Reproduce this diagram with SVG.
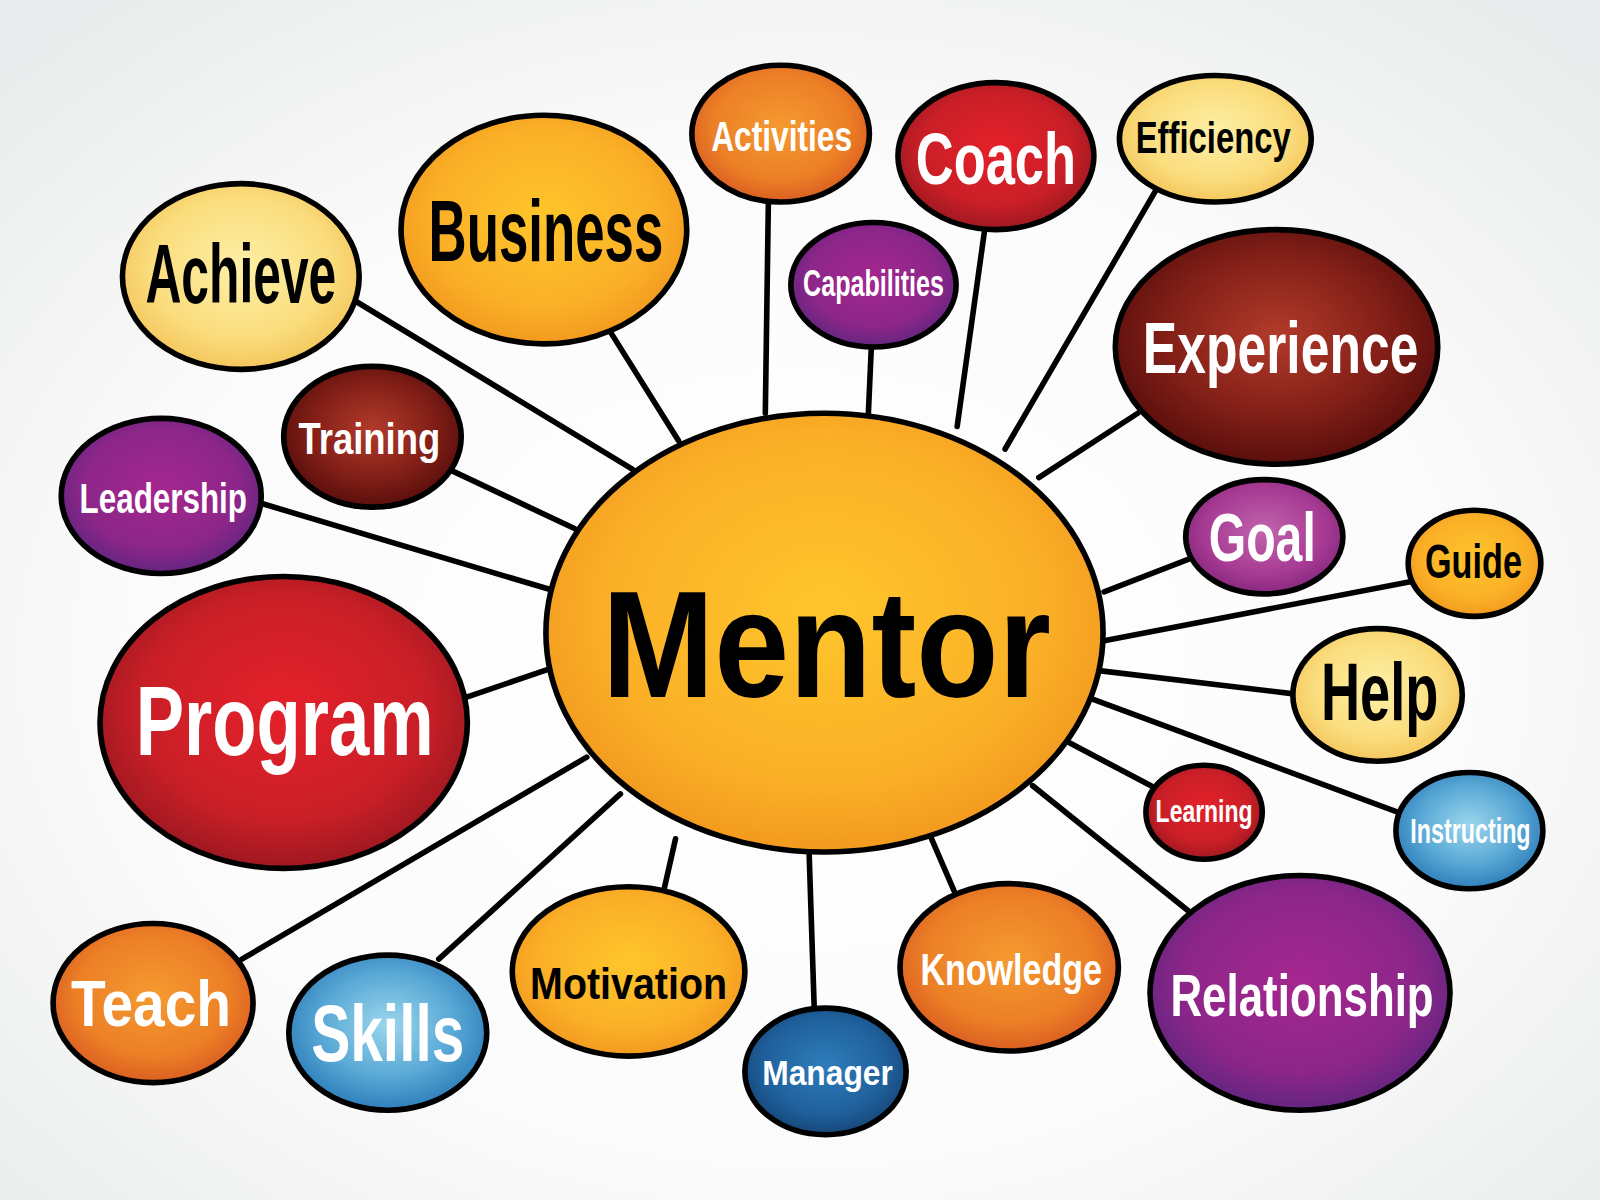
<svg xmlns="http://www.w3.org/2000/svg" width="1600" height="1200" viewBox="0 0 1600 1200">
<defs>
<radialGradient id="bg" cx="50%" cy="55%" r="70%"><stop offset="0" stop-color="#ffffff"/><stop offset="0.6" stop-color="#fbfbfb"/><stop offset="1" stop-color="#e9ebec"/></radialGradient>
<radialGradient id="gLY" cx="50%" cy="45%" r="55%"><stop offset="0" stop-color="#fdf0a6"/><stop offset="0.7" stop-color="#fadc7c"/><stop offset="1" stop-color="#f4c65c"/></radialGradient>
<radialGradient id="gOY" cx="50%" cy="45%" r="55%"><stop offset="0" stop-color="#fec52b"/><stop offset="0.7" stop-color="#fbb027"/><stop offset="1" stop-color="#f29a1f"/></radialGradient>
<radialGradient id="gOR" cx="50%" cy="45%" r="55%"><stop offset="0" stop-color="#f59a30"/><stop offset="0.7" stop-color="#ec7f26"/><stop offset="1" stop-color="#da5e21"/></radialGradient>
<radialGradient id="gRD" cx="50%" cy="45%" r="55%"><stop offset="0" stop-color="#e5202a"/><stop offset="0.7" stop-color="#c91f27"/><stop offset="1" stop-color="#9e1820"/></radialGradient>
<radialGradient id="gMR" cx="50%" cy="45%" r="55%"><stop offset="0" stop-color="#b23b2a"/><stop offset="0.6" stop-color="#842018"/><stop offset="1" stop-color="#5a0e0c"/></radialGradient>
<radialGradient id="gPU" cx="50%" cy="45%" r="55%"><stop offset="0" stop-color="#a4278f"/><stop offset="0.7" stop-color="#8d2689"/><stop offset="1" stop-color="#642580"/></radialGradient>
<radialGradient id="gPK" cx="50%" cy="45%" r="55%"><stop offset="0" stop-color="#c064ad"/><stop offset="0.7" stop-color="#a73a93"/><stop offset="1" stop-color="#86287e"/></radialGradient>
<radialGradient id="gLB" cx="50%" cy="45%" r="55%"><stop offset="0" stop-color="#9bd6ec"/><stop offset="0.6" stop-color="#5aa9d6"/><stop offset="1" stop-color="#2e7fbb"/></radialGradient>
<radialGradient id="gDB" cx="50%" cy="45%" r="55%"><stop offset="0" stop-color="#2d7dba"/><stop offset="0.7" stop-color="#1f609c"/><stop offset="1" stop-color="#16477a"/></radialGradient>
</defs>
<style>
.n{stroke:#000;stroke-width:5.5}
.c line{stroke:#000;stroke-width:5.5;stroke-linecap:round}
.t{font-family:"Liberation Sans","DejaVu Sans",sans-serif;text-anchor:middle}
.w{fill:#fff;font-weight:700}
.b{fill:#000;font-weight:700}
</style>
<rect width="1600" height="1200" fill="url(#bg)"/>
<g transform="scale(1.02041)">
<g id="connectors" class="c">
<line x1="345" y1="293" x2="620" y2="460"/>
<line x1="598" y1="325" x2="665" y2="432"/>
<line x1="753" y1="198" x2="750" y2="405"/>
<line x1="854" y1="338" x2="851" y2="405"/>
<line x1="965" y1="225" x2="938" y2="418"/>
<line x1="1133" y1="186" x2="985" y2="440"/>
<line x1="1115" y1="405" x2="1018" y2="468"/>
<line x1="1165" y1="548" x2="1082" y2="580"/>
<line x1="1382" y1="570" x2="1082" y2="628"/>
<line x1="1268" y1="680" x2="1075" y2="657"/>
<line x1="1373" y1="797" x2="1070" y2="685"/>
<line x1="1128" y1="770" x2="1048" y2="728"/>
<line x1="1165" y1="893" x2="1012" y2="770"/>
<line x1="935" y1="873" x2="912" y2="820"/>
<line x1="798" y1="990" x2="793" y2="838"/>
<line x1="650" y1="875" x2="662" y2="822"/>
<line x1="430" y1="940" x2="608" y2="778"/>
<line x1="237" y1="940" x2="575" y2="742"/>
<line x1="458" y1="683" x2="540" y2="655"/>
<line x1="255" y1="493" x2="540" y2="578"/>
<line x1="440" y1="460" x2="563" y2="518"/>
</g>
<g id="mentor"><ellipse class="n" cx="808" cy="620" rx="273" ry="215" fill="url(#gOY)"/><text class="t b" x="810" y="683" font-size="150" textLength="440" lengthAdjust="spacingAndGlyphs">Mentor</text></g>
<g id="achieve"><ellipse class="n" cx="236" cy="271" rx="116" ry="91" fill="url(#gLY)"/><text class="t b" x="236" y="297" font-size="82" textLength="187" lengthAdjust="spacingAndGlyphs">Achieve</text></g>
<g id="business"><ellipse class="n" cx="533" cy="225" rx="140" ry="112" fill="url(#gOY)"/><text class="t b" x="535" y="256" font-size="86" textLength="230" lengthAdjust="spacingAndGlyphs">Business</text></g>
<g id="activities"><ellipse class="n" cx="765" cy="131" rx="87" ry="67" fill="url(#gOR)"/><text class="t w" x="766" y="148" font-size="42" textLength="138" lengthAdjust="spacingAndGlyphs">Activities</text></g>
<g id="coach"><ellipse class="n" cx="976" cy="153" rx="96" ry="72" fill="url(#gRD)"/><text class="t w" x="976" y="180" font-size="70" textLength="157" lengthAdjust="spacingAndGlyphs">Coach</text></g>
<g id="efficiency"><ellipse class="n" cx="1191" cy="136" rx="94" ry="62" fill="url(#gLY)"/><text class="t b" x="1189" y="150" font-size="44" textLength="152" lengthAdjust="spacingAndGlyphs">Efficiency</text></g>
<g id="capabilities"><ellipse class="n" cx="856" cy="279" rx="81" ry="61" fill="url(#gPU)"/><text class="t w" x="856" y="290" font-size="36" textLength="138" lengthAdjust="spacingAndGlyphs">Capabilities</text></g>
<g id="experience"><ellipse class="n" cx="1251" cy="340" rx="158" ry="115" fill="url(#gMR)"/><text class="t w" x="1255" y="366" font-size="70" textLength="270" lengthAdjust="spacingAndGlyphs">Experience</text></g>
<g id="training"><ellipse class="n" cx="365" cy="428" rx="87" ry="69" fill="url(#gMR)"/><text class="t w" x="362" y="445" font-size="44" textLength="139" lengthAdjust="spacingAndGlyphs">Training</text></g>
<g id="leadership"><ellipse class="n" cx="158" cy="486" rx="98" ry="76" fill="url(#gPU)"/><text class="t w" x="160" y="503" font-size="42" textLength="164" lengthAdjust="spacingAndGlyphs">Leadership</text></g>
<g id="program"><ellipse class="n" cx="278" cy="708" rx="180" ry="143" fill="url(#gRD)"/><text class="t w" x="279" y="740" font-size="96" textLength="292" lengthAdjust="spacingAndGlyphs">Program</text></g>
<g id="goal"><ellipse class="n" cx="1239" cy="526" rx="77" ry="56" fill="url(#gPK)"/><text class="t w" x="1237" y="550" font-size="68" textLength="105" lengthAdjust="spacingAndGlyphs">Goal</text></g>
<g id="guide"><ellipse class="n" cx="1445" cy="552" rx="65" ry="52" fill="url(#gOY)"/><text class="t b" x="1444" y="566" font-size="48" textLength="95" lengthAdjust="spacingAndGlyphs">Guide</text></g>
<g id="help"><ellipse class="n" cx="1350" cy="681" rx="83" ry="65" fill="url(#gLY)"/><text class="t b" x="1352" y="706" font-size="80" textLength="115" lengthAdjust="spacingAndGlyphs">Help</text></g>
<g id="learning"><ellipse class="n" cx="1180" cy="796" rx="57" ry="46" fill="url(#gRD)"/><text class="t w" x="1180" y="806" font-size="30" textLength="95" lengthAdjust="spacingAndGlyphs">Learning</text></g>
<g id="instructing"><ellipse class="n" cx="1440" cy="814" rx="72" ry="57" fill="url(#gLB)"/><text class="t w" x="1441" y="826" font-size="34" textLength="118" lengthAdjust="spacingAndGlyphs">Instructing</text></g>
<g id="relationship"><ellipse class="n" cx="1274" cy="973" rx="147" ry="115" fill="url(#gPU)"/><text class="t w" x="1276" y="996" font-size="58" textLength="258" lengthAdjust="spacingAndGlyphs">Relationship</text></g>
<g id="knowledge"><ellipse class="n" cx="989" cy="948" rx="107" ry="82" fill="url(#gOR)"/><text class="t w" x="991" y="965" font-size="44" textLength="178" lengthAdjust="spacingAndGlyphs">Knowledge</text></g>
<g id="manager"><ellipse class="n" cx="809" cy="1050" rx="79" ry="62" fill="url(#gDB)"/><text class="t w" x="811" y="1063" font-size="34" textLength="128" lengthAdjust="spacingAndGlyphs">Manager</text></g>
<g id="motivation"><ellipse class="n" cx="616" cy="952" rx="114" ry="83" fill="url(#gOY)"/><text class="t b" x="616" y="979" font-size="44" textLength="193" lengthAdjust="spacingAndGlyphs">Motivation</text></g>
<g id="skills"><ellipse class="n" cx="380" cy="1012" rx="97" ry="76" fill="url(#gLB)"/><text class="t w" x="380" y="1040" font-size="78" textLength="150" lengthAdjust="spacingAndGlyphs">Skills</text></g>
<g id="teach"><ellipse class="n" cx="150" cy="983" rx="98" ry="78" fill="url(#gOR)"/><text class="t w" x="148" y="1005" font-size="64" textLength="157" lengthAdjust="spacingAndGlyphs">Teach</text></g>
</g>
</svg>
